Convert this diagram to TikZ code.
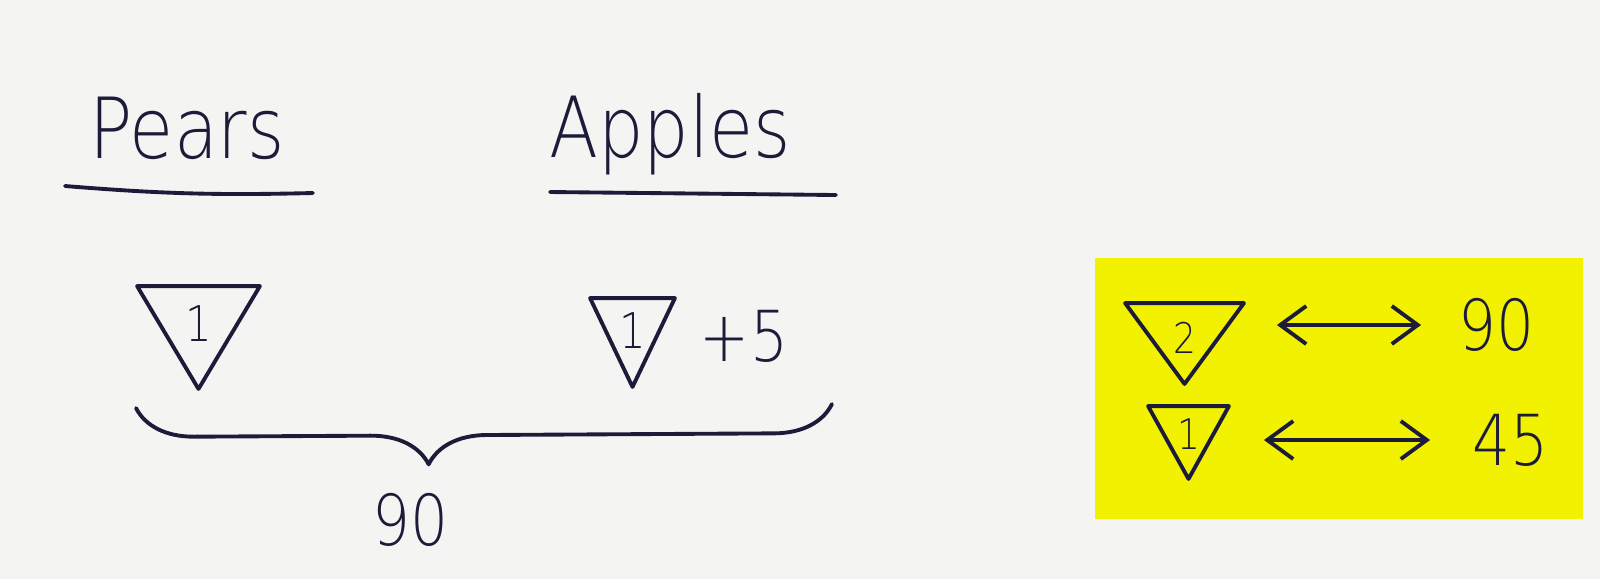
\documentclass[tikz,border=0pt]{standalone}
\usepackage{fontspec}
\setmainfont{DejaVu Sans ExtraLight}[FakeStretch=0.85]
\usetikzlibrary{arrows.meta,decorations.pathreplacing}
\definecolor{ink}{RGB}{28,28,58}
\definecolor{paper}{RGB}{244,245,243}
\definecolor{hilite}{RGB}{242,242,0}
\begin{document}
\begin{tikzpicture}[color=ink, line width=1.1pt, line cap=round, line join=round]
\tikzset{word/.style = {font=\fontsize{24}{28}\selectfont, anchor=base, inner sep=0}}
\tikzset{num/.style = {font=\fontsize{20}{24}\selectfont, inner sep=0}}
\tikzset{small/.style = {font=\fontsize{14}{16}\selectfont, inner sep=0}}
\tikzset{tiny/.style = {font=\fontsize{12}{14}\selectfont, inner sep=0}}
\tikzset{tribox/.style = {inner sep=0}}
\tikzset{dbl/.style = {<->, >={Straight Barb[length=2.6mm,width=3.8mm]}}}
\fill[paper] (0,0) rectangle (16,-5.79);
\useasboundingbox (0,0) rectangle (16,-5.79);
% headings
\node[word] (pears) at (1.87,-1.58) {Pears};
\node[word] (apples) at (6.70,-1.57) {Apples};
\draw (0.65,-1.86) to[bend right=3] (3.13,-1.93);
\draw (5.50,-1.92) -- (8.36,-1.95);
% pears and apples
\node[tribox, minimum width=1.19cm, minimum height=0.99cm] (tP) at (1.985,-3.375) {};
\draw (tP.north west) -- (tP.north east) -- (tP.south) -- cycle;
\node[small] (nP) at ([yshift=1.4mm]tP.center) {1};
\node[tribox, minimum width=0.81cm, minimum height=0.85cm] (tA) at (6.325,-3.425) {};
\draw (tA.north west) -- (tA.north east) -- (tA.south) -- cycle;
\node[small] (nA) at ([yshift=1.2mm]tA.center) {1};
\node[num] (plus) at (7.44,-3.36) {+5};
% total
\coordinate (bl) at (1.36,-4.08);
\coordinate (br) at (8.32,-4.04);
\draw[decorate, decoration={brace, mirror, amplitude=5.8mm, aspect=0.42}] (bl) -- (br);
\node[num] (total) at (4.11,-5.2) {90};
% yellow box
\fill[hilite] (10.95,-2.58) rectangle (15.83,-5.19);
\node[tribox, minimum width=1.15cm, minimum height=0.77cm] (t2) at (11.845,-3.435) {};
\draw (t2.north west) -- (t2.north east) -- (t2.south) -- cycle;
\node[tiny] (n2) at ([yshift=0.6mm]t2.center) {2};
\node[tribox, minimum width=0.77cm, minimum height=0.69cm] (t1) at (11.885,-4.425) {};
\draw (t1.north west) -- (t1.north east) -- (t1.south) -- cycle;
\node[tiny] (n1) at ([yshift=0.8mm]t1.center) {1};
\node[num] (v90) at (14.96,-3.25) {90};
\node[num] (v45) at (15.10,-4.40) {45};
\draw[dbl, shorten <=3.3mm, shorten >=3.5mm] (t2.north east |- v90) -- (v90.west);
\draw[dbl, shorten <=3.5mm, shorten >=4mm] (t1.north east |- v45) -- (v45.west);
\end{tikzpicture}
\end{document}
